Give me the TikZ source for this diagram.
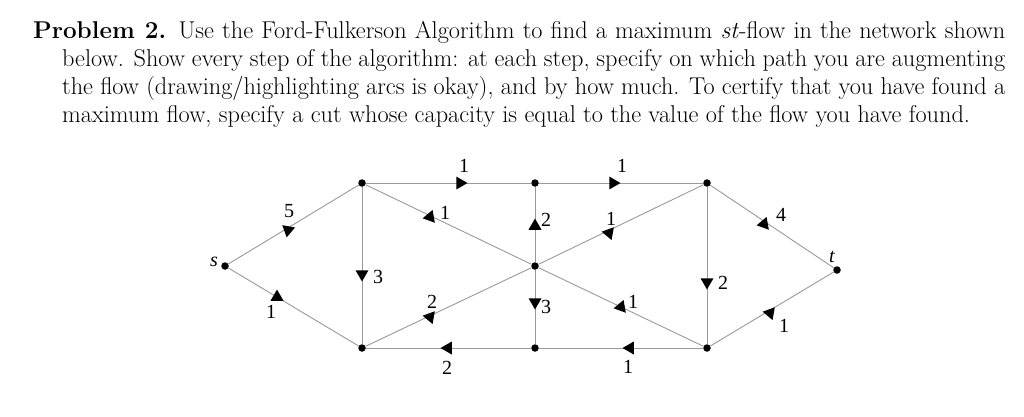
\documentclass[tikz,border=0pt]{standalone}
\usepackage{fontspec}
\newfontfamily\lbl{Liberation Serif}
\usetikzlibrary{shapes.geometric}
\tikzset{
  vx/.style={circle,fill=black,inner sep=0pt,minimum size=7.5pt},
  ed/.style={draw=gray!80,line width=0.9pt},
  tri/.style={regular polygon,regular polygon sides=3,fill=black,inner sep=0pt,minimum size=15pt},
  lb/.style={font=\lbl\fontsize{20}{20}\selectfont,inner sep=0pt}
}
\begin{document}
\begin{tikzpicture}[x=1pt,y=-1pt]
\useasboundingbox (0,0) rectangle (1024,416);
\node[anchor=north west,text width=972pt,align=justify,inner sep=0pt] (txt) at (33,21)
 {\fontsize{24.3}{28}\selectfont\hangindent=29pt\hangafter=1 \textbf{Problem 2.} Use the Ford-Fulkerson Algorithm to find a maximum \textit{st}-flow in the network shown below. Show every step of the algorithm: at each step, specify on which path you are augmenting the flow (drawing/highlighting arcs is okay), and by how much. To certify that you have found a maximum flow, specify a cut whose capacity is equal to the value of the flow you have found.\par};
\node[vx] (s) at (225,266) {};
\node[vx] (a) at (362,183) {};
\node[vx] (b) at (362,348) {};
\node[vx] (c) at (535,183) {};
\node[vx] (m) at (535,266) {};
\node[vx] (d) at (535,348) {};
\node[vx] (e) at (707,183) {};
\node[vx] (f) at (707,348) {};
\node[vx] (t) at (837,270) {};
\foreach \u/\v in {s/a,s/b,a/c,a/m,a/b,b/m,b/d,c/m,m/d,c/e,m/e,m/f,d/f,e/f,e/t,f/t}
  \draw[ed] (\u) -- (\v);
\node[lb] (ls) at (214,262) {\textit{s}};
\node[lb] (lt) at (832,257) {\textit{t}};
% arrowheads
\node[tri,rotate=170] (t1) at (288,230) {};
\node[tri,rotate=0] (t2) at (277,297) {};
\node[tri,rotate=-90] (t3) at (460,183) {};
\node[tri,rotate=-20] (t4) at (430,217) {};
\node[tri,rotate=180] (t5) at (362,274) {};
\node[tri,rotate=200] (t6) at (430,317) {};
\node[tri,rotate=90] (t7) at (448,348) {};
\node[tri,rotate=0] (t8) at (535,226) {};
\node[tri,rotate=180] (t9) at (535,302) {};
\node[tri,rotate=-90] (t10) at (613,183) {};
\node[tri,rotate=200] (t11) at (609,233) {};
\node[tri,rotate=-20] (t12) at (621,307) {};
\node[tri,rotate=90] (t13) at (630,348) {};
\node[tri,rotate=180] (t14) at (707,282) {};
\node[tri,rotate=-20] (t15) at (764,224) {};
\node[tri,rotate=200] (t16) at (770,313) {};
% labels
\node[lb] (l1) at (289,211) {5};
\node[lb] (l2) at (271,312) {1};
\node[lb] (l3) at (464,166) {1};
\node[lb] (l4) at (445,213) {1};
\node[lb] (l5) at (378,277) {3};
\node[lb] (l6) at (432,302) {2};
\node[lb] (l7) at (447,368) {2};
\node[lb] (l8) at (546,220) {2};
\node[lb] (l9) at (546,307) {3};
\node[lb] (l10) at (622,166) {1};
\node[lb] (l11) at (611,219) {1};
\node[lb] (l12) at (633,302) {1};
\node[lb] (l13) at (628,367) {1};
\node[lb] (l14) at (723,283) {2};
\node[lb] (l15) at (781,215) {4};
\node[lb] (l16) at (784,326) {1};
\end{tikzpicture}
\end{document}
